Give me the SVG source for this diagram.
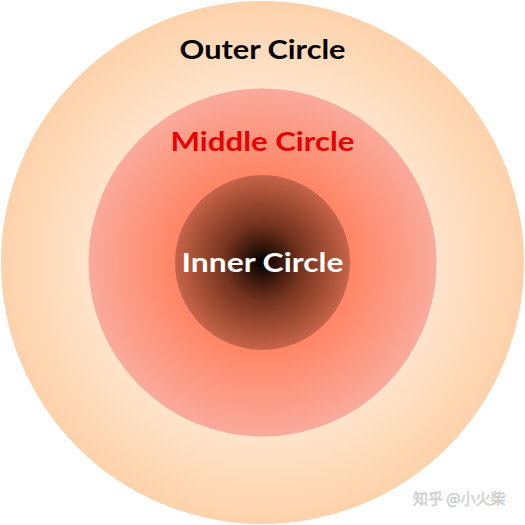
<svg xmlns="http://www.w3.org/2000/svg" width="525" height="525" viewBox="0 0 525 525">
  <defs>
    <radialGradient id="gOuter" cx="0.5" cy="0.5" r="0.5">
      <stop offset="0" stop-color="#fff1e2"/>
      <stop offset="0.66" stop-color="#fee4cb"/>
      <stop offset="1" stop-color="#fdd2ab"/>
    </radialGradient>
    <radialGradient id="gMiddle" cx="0.5" cy="0.5" r="0.5">
      <stop offset="0" stop-color="#ff6a3c"/>
      <stop offset="0.5" stop-color="#ff8565"/>
      <stop offset="1" stop-color="#faaa9c"/>
    </radialGradient>
    <radialGradient id="gInner" cx="0.5" cy="0.5" r="0.5">
      <stop offset="0" stop-color="#000" stop-opacity="1"/>
      <stop offset="0.45" stop-color="#1a0800" stop-opacity="0.6"/>
      <stop offset="1" stop-color="#2a0c00" stop-opacity="0.27"/>
    </radialGradient>
  </defs>
  <style>
    .lbl { font-family: Lato, "Open Sans", "Liberation Sans", sans-serif; font-weight: bold; font-size: 26px; text-anchor: middle; }
    .wm { font-family: "Noto Sans CJK SC", "Noto Sans", sans-serif; font-size: 15px; fill: #e4e4e4; stroke: #b8b8b8; stroke-width: 0.4; }
  </style>
  <rect width="525" height="525" fill="#ffffff"/>
  <g id="outer">
    <circle cx="262.5" cy="262.5" r="261.5" fill="url(#gOuter)"/>
    <text class="lbl" x="262.5" y="59" fill="#000000" textLength="166" lengthAdjust="spacingAndGlyphs">Outer Circle</text>
  </g>
  <g id="middle">
    <circle cx="262.5" cy="262.5" r="174" fill="url(#gMiddle)"/>
    <text class="lbl" x="262.5" y="151" fill="#e60000" textLength="184" lengthAdjust="spacingAndGlyphs">Middle Circle</text>
  </g>
  <g id="inner">
    <circle cx="262.5" cy="262.5" r="87.5" fill="url(#gInner)"/>
    <text class="lbl" x="262.5" y="272" fill="#ffffff" textLength="162" lengthAdjust="spacingAndGlyphs">Inner Circle</text>
  </g>
  <g id="connectors"/>
  <text class="wm" x="413" y="504">知乎 @小火柴</text>
</svg>
